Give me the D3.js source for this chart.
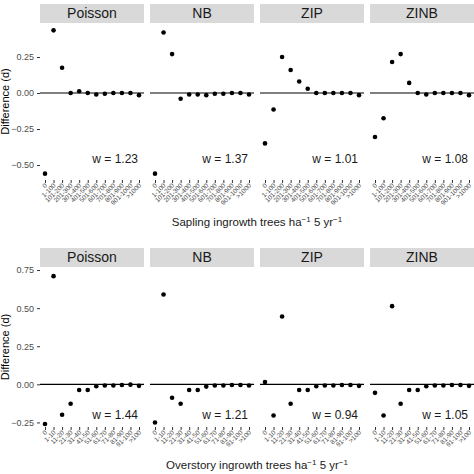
<!DOCTYPE html>
<html><head><meta charset="utf-8">
<script src="https://cdn.jsdelivr.net/npm/d3@7"></script>
<style>body{margin:0;background:#fff;font-family:"Liberation Sans",Arial,sans-serif}</style>
</head><body>
<script>
var models = ["Poisson", "NB", "ZIP", "ZINB"];
var saplingCats = ["0","1-100","101-200","201-300","301-400","401-500","501-600","601-700","701-800","801-900","901-1000",">1000"];
var overstoryCats = ["0","1-10","11-20","21-30","31-40","41-50","51-60","61-70","71-80","81-90","91-100",">100"];

var saplingPoisson = [-0.56, 0.435, 0.175, 0, 0.012, 0, -0.01, -0.005, 0, 0, 0, -0.015];
var saplingNB      = [-0.56, 0.42, 0.27, -0.04, -0.01, -0.01, -0.015, -0.005, -0.005, 0, 0, -0.01];
var saplingZIP     = [-0.35, -0.115, 0.25, 0.16, 0.08, 0.03, 0, 0, 0, 0, 0, -0.015];
var saplingZINB    = [-0.305, -0.175, 0.215, 0.27, 0.07, 0, -0.01, 0, 0, 0, 0, -0.015];
var saplingW = ["1.23", "1.37", "1.01", "1.08"];

var overPoisson = [-0.26, 0.71, -0.2, -0.127, -0.037, -0.037, -0.013, -0.008, -0.008, -0.004, -0.002, -0.01];
var overNB      = [-0.25, 0.59, -0.088, -0.127, -0.037, -0.037, -0.015, -0.008, -0.008, -0.004, -0.004, -0.008];
var overZIP     = [0.015, -0.205, 0.445, -0.127, -0.037, -0.037, -0.013, -0.008, -0.008, -0.004, -0.004, -0.01];
var overZINB    = [-0.056, -0.205, 0.513, -0.127, -0.037, -0.037, -0.013, -0.008, -0.008, -0.004, -0.004, -0.01];
var overW = ["1.44", "1.21", "0.94", "1.05"];

var svg = d3.select("body").append("svg").attr("width", 474).attr("height", 474);

var panelW = 104, gap = 6, left = 40;

function drawRow(cfg) {
  var x = d3.scalePoint().domain(cfg.cats).range([5, panelW - 5]);
  var y = d3.scaleLinear().domain(cfg.domain).range([cfg.bottom, cfg.top]);

  models.forEach(function(m, i) {
    var g = svg.append("g").attr("transform", "translate(" + (left + i * (panelW + gap)) + ",0)");
    g.append("rect").attr("x", 0).attr("y", cfg.top - 19).attr("width", panelW).attr("height", 19).attr("fill", "#d9d9d9");
    g.append("text").attr("x", panelW / 2).attr("y", cfg.top - 5).attr("text-anchor", "middle")
     .style("font-size", "14px").attr("fill", "#1a1a1a").text(m);

    g.append("line").attr("x1", 0).attr("x2", panelW).attr("y1", y(0)).attr("y2", y(0))
     .attr("stroke", "#000").attr("stroke-width", 1.1);

    var xa = g.append("g").attr("transform", "translate(0," + cfg.bottom + ")")
      .call(d3.axisBottom(x).tickSize(3).tickPadding(2));
    xa.select(".domain").remove();
    xa.selectAll("line").attr("stroke", "#333");
    xa.selectAll("text").style("font-size", "6.5px").attr("fill", "#4d4d4d")
      .attr("y", 0).attr("dy", null)
      .style("text-anchor", "end")
      .attr("transform", "translate(2,6) rotate(-45)");

    if (i === 0) {
      var ya = g.append("g").call(d3.axisLeft(y).tickValues(cfg.ticks).tickFormat(d3.format(".2f")).tickSize(3));
      ya.select(".domain").remove();
      ya.selectAll("line").attr("stroke", "#333");
      ya.selectAll("text").style("font-size", "9px").attr("fill", "#4d4d4d");
    }

    g.selectAll("circle").data(cfg.series[i]).enter().append("circle")
     .attr("cx", function(d, k) { return x(cfg.cats[k]); })
     .attr("cy", function(d) { return y(d); })
     .attr("r", 2.3).attr("fill", "#000");

    g.append("text").attr("x", panelW - 6).attr("y", cfg.wy).attr("text-anchor", "end")
     .style("font-size", "12px").attr("fill", "#1a1a1a").text("w = " + cfg.w[i]);
  });

  svg.append("text").attr("transform", "translate(9," + ((cfg.top + cfg.bottom) / 2) + ") rotate(-90)")
     .attr("text-anchor", "middle").style("font-size", "11px").text("Difference (d)");

  var t = svg.append("text").attr("x", left + (4 * panelW + 3 * gap) / 2).attr("y", cfg.titleY)
     .attr("text-anchor", "middle").style("font-size", "11.5px").attr("fill", "#1a1a1a");
  t.append("tspan").text(cfg.title + " trees  ha");
  t.append("tspan").attr("dy", "-4").style("font-size", "8px").text("\u22121");
  t.append("tspan").attr("dy", "4").text(" 5 yr");
  t.append("tspan").attr("dy", "-4").style("font-size", "8px").text("\u22121");
}

drawRow({cats: saplingCats, domain: [-0.604, 0.486], top: 23, bottom: 180,
  ticks: [-0.5, -0.25, 0, 0.25], series: [saplingPoisson, saplingNB, saplingZIP, saplingZINB],
  w: saplingW, wy: 163, titleY: 226, title: "Sapling ingrowth"});

drawRow({cats: overstoryCats, domain: [-0.28, 0.77], top: 267, bottom: 427,
  ticks: [-0.25, 0, 0.25, 0.5, 0.75], series: [overPoisson, overNB, overZIP, overZINB],
  w: overW, wy: 419, titleY: 469, title: "Overstory ingrowth"});
</script>
</body></html>
